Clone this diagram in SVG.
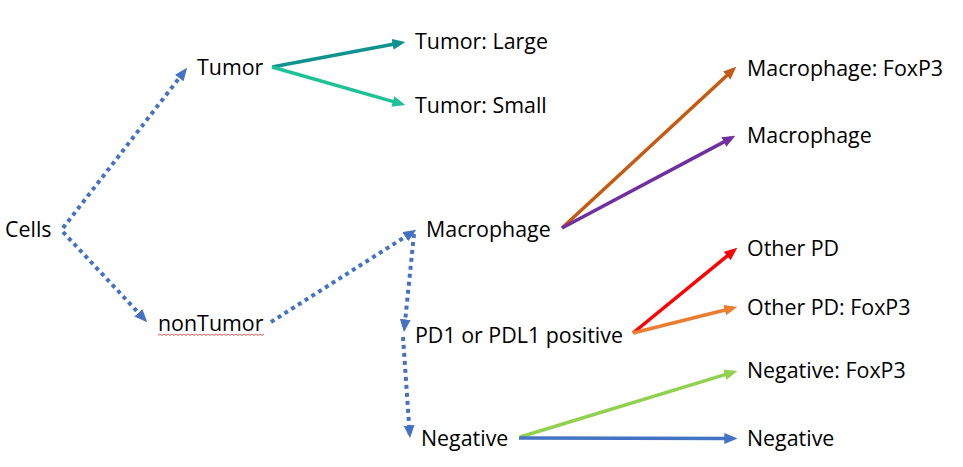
<svg xmlns="http://www.w3.org/2000/svg" width="963" height="467" viewBox="0 0 963 467">
<style>
text{font-family:"Open Sans","Noto Sans",sans-serif;font-size:21.4px;fill:#000}
.c line{stroke-width:3.5;fill:none}
.dot{stroke:#4472C4;stroke-width:4!important;stroke-dasharray:4 4}
</style>
<defs>
<marker id="aBlue" viewBox="0 0 12 10" refX="8" refY="5" markerWidth="13" markerHeight="11" markerUnits="userSpaceOnUse" orient="auto"><path d="M0,0L12,5L0,10z" fill="#4472C4"/></marker>
<marker id="aTeal" viewBox="0 0 12 10" refX="8" refY="5" markerWidth="13" markerHeight="11" markerUnits="userSpaceOnUse" orient="auto"><path d="M0,0L12,5L0,10z" fill="#10938F"/></marker>
<marker id="aMint" viewBox="0 0 12 10" refX="8" refY="5" markerWidth="13" markerHeight="11" markerUnits="userSpaceOnUse" orient="auto"><path d="M0,0L12,5L0,10z" fill="#1DC296"/></marker>
<marker id="aBrown" viewBox="0 0 12 10" refX="8" refY="5" markerWidth="13" markerHeight="11" markerUnits="userSpaceOnUse" orient="auto"><path d="M0,0L12,5L0,10z" fill="#C55A11"/></marker>
<marker id="aPurple" viewBox="0 0 12 10" refX="8" refY="5" markerWidth="13" markerHeight="11" markerUnits="userSpaceOnUse" orient="auto"><path d="M0,0L12,5L0,10z" fill="#7030A0"/></marker>
<marker id="aRed" viewBox="0 0 12 10" refX="8" refY="5" markerWidth="13" markerHeight="11" markerUnits="userSpaceOnUse" orient="auto"><path d="M0,0L12,5L0,10z" fill="#FF0000"/></marker>
<marker id="aOrange" viewBox="0 0 12 10" refX="8" refY="5" markerWidth="13" markerHeight="11" markerUnits="userSpaceOnUse" orient="auto"><path d="M0,0L12,5L0,10z" fill="#ED7D31"/></marker>
<marker id="aGreen" viewBox="0 0 12 10" refX="8" refY="5" markerWidth="13" markerHeight="11" markerUnits="userSpaceOnUse" orient="auto"><path d="M0,0L12,5L0,10z" fill="#92D050"/></marker>
</defs>
<rect width="963" height="467" fill="#fff"/>
<g class="c" id="connectors">
<line class="dot" x1="63" y1="228" x2="184.5" y2="71.2" marker-end="url(#aBlue)"/>
<line class="dot" x1="63" y1="232" x2="144.3" y2="319.1" marker-end="url(#aBlue)"/>
<line class="dot" x1="271" y1="322" x2="412.6" y2="232.1" marker-end="url(#aBlue)"/>
<line class="dot" x1="414" y1="234" x2="404.4" y2="328" marker-end="url(#aBlue)"/>
<line class="dot" x1="403" y1="337" x2="409.7" y2="434" marker-end="url(#aBlue)"/>
<line stroke="#10938F" x1="272" y1="67" x2="401.1" y2="42.7" marker-end="url(#aTeal)"/>
<line stroke="#1DC296" x1="272" y1="67" x2="401.2" y2="103.9" marker-end="url(#aMint)"/>
<line stroke="#C55A11" x1="562" y1="228" x2="733.1" y2="69.7" marker-end="url(#aBrown)"/>
<line stroke="#7030A0" x1="562" y1="228" x2="731.5" y2="137.9" marker-end="url(#aPurple)"/>
<line stroke="#FF0000" x1="633" y1="333" x2="733.9" y2="250.5" marker-end="url(#aRed)"/>
<line stroke="#ED7D31" x1="633" y1="333" x2="733.1" y2="308" marker-end="url(#aOrange)"/>
<line stroke="#92D050" x1="520" y1="437" x2="733.2" y2="372.2" marker-end="url(#aGreen)"/>
<line stroke="#4472C4" x1="519" y1="438" x2="733" y2="438.5" marker-end="url(#aBlue)"/>
</g>
<g id="cells"><text x="5" y="237">Cells</text></g>
<g id="tumor"><text x="197" y="75">Tumor</text></g>
<g id="nontumor"><text x="158" y="331">nonTumor</text>
<path d="M158,335.5 l2,-1.5 l2,1.5 l2,-1.5 l2,1.5 l2,-1.5 l2,1.5 l2,-1.5 l2,1.5 l2,-1.5 l2,1.5 l2,-1.5 l2,1.5 l2,-1.5 l2,1.5 l2,-1.5 l2,1.5 l2,-1.5 l2,1.5 l2,-1.5 l2,1.5 l2,-1.5 l2,1.5 l2,-1.5 l2,1.5 l2,-1.5 l2,1.5 l2,-1.5 l2,1.5 l2,-1.5 l2,1.5 l2,-1.5 l2,1.5 l2,-1.5 l2,1.5 l2,-1.5 l2,1.5 l2,-1.5 l2,1.5 l2,-1.5 l2,1.5 l2,-1.5 l2,1.5 l2,-1.5 l2,1.5 l2,-1.5 l2,1.5 l2,-1.5 l2,1.5 l2,-1.5 l2,1.5 l2,-1.5 l2,1.5 l2,-1.5" fill="none" stroke="#E03030" stroke-width="0.8"/></g>
<g id="tumor-large"><text x="415" y="49">Tumor: Large</text></g>
<g id="tumor-small"><text x="415" y="113">Tumor: Small</text></g>
<g id="macrophage"><text x="426" y="237">Macrophage</text></g>
<g id="pd1"><text x="415" y="343">PD1 or PDL1 positive</text></g>
<g id="negative"><text x="421" y="446">Negative</text></g>
<g id="mac-foxp3"><text x="747" y="76">Macrophage: FoxP3</text></g>
<g id="mac"><text x="747" y="143">Macrophage</text></g>
<g id="otherpd"><text x="747" y="256">Other PD</text></g>
<g id="otherpd-foxp3"><text x="747" y="315">Other PD: FoxP3</text></g>
<g id="neg-foxp3"><text x="747" y="378">Negative: FoxP3</text></g>
<g id="neg"><text x="747" y="446">Negative</text></g>
</svg>
